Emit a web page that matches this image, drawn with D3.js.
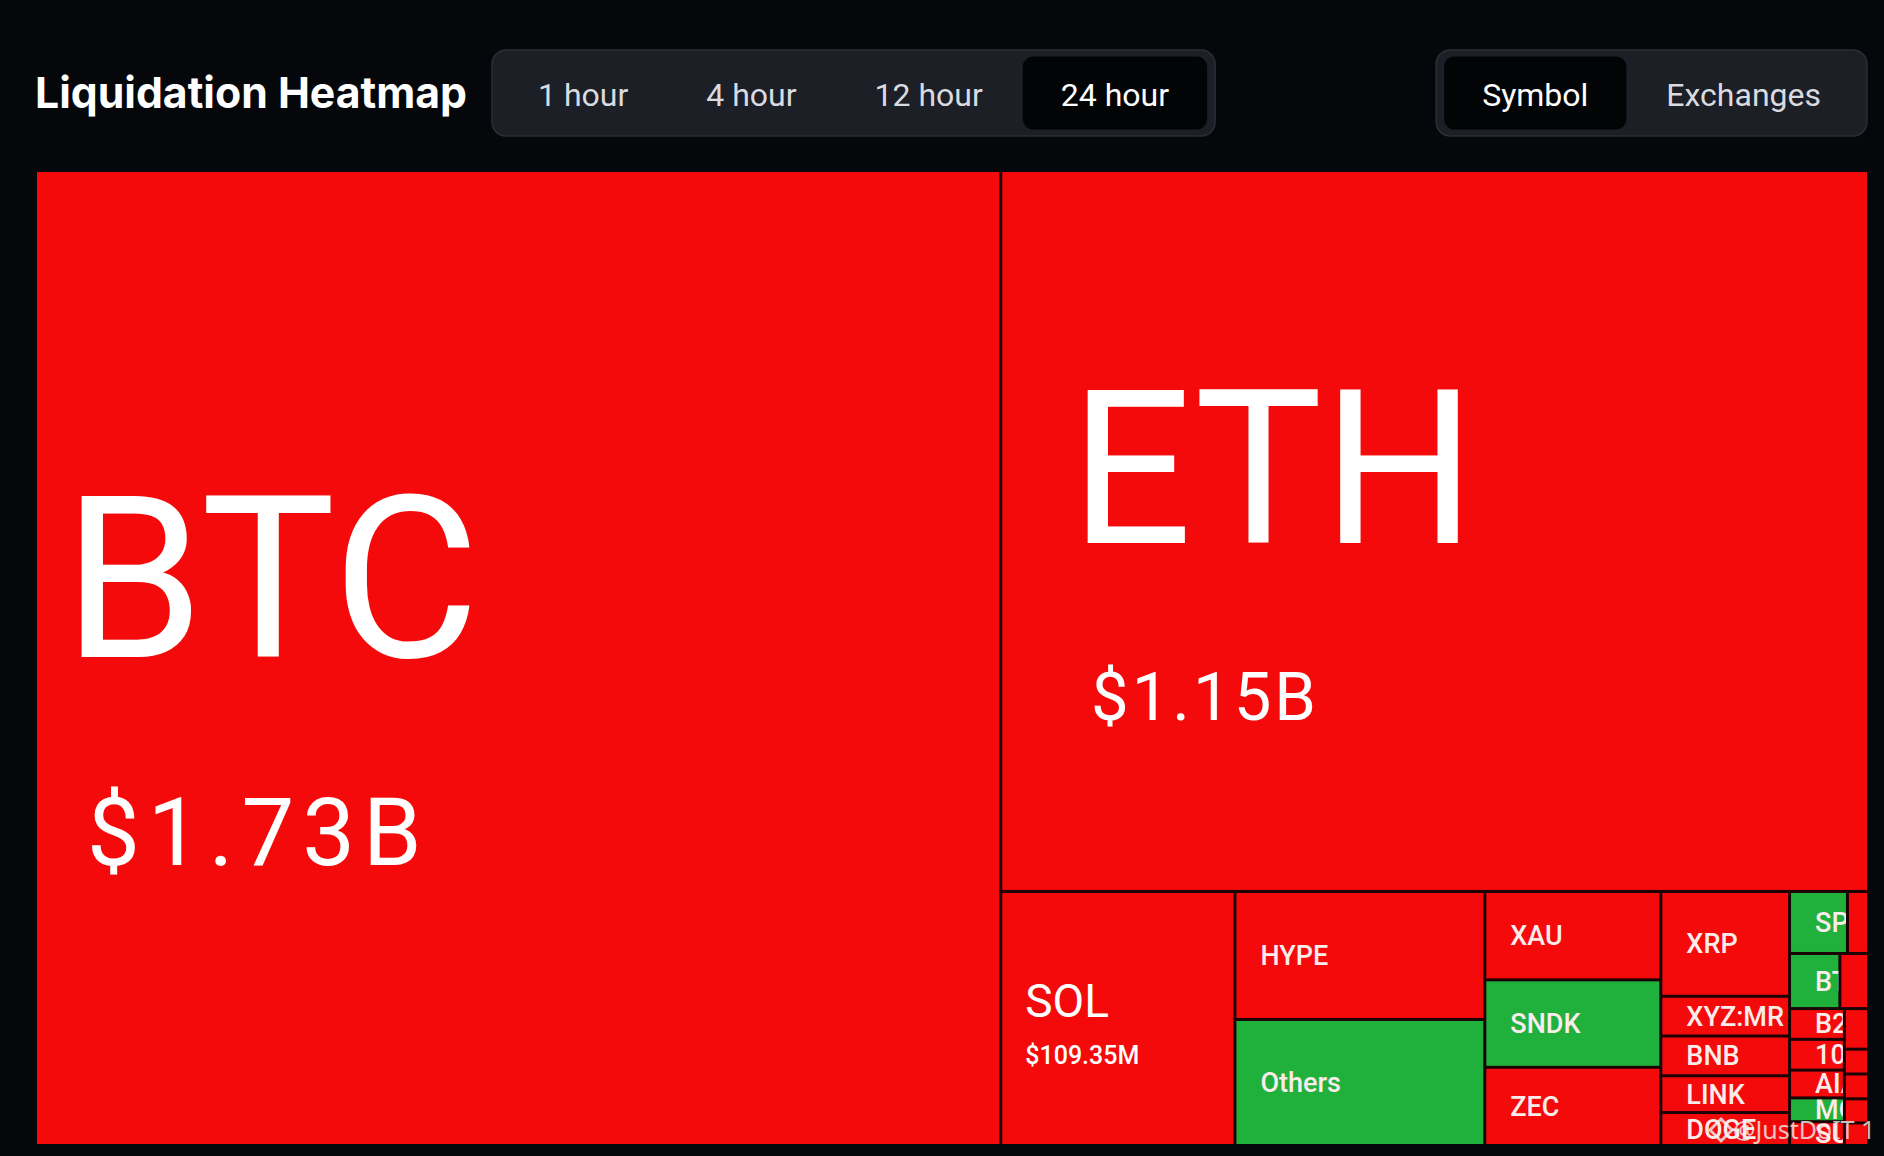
<!DOCTYPE html>
<html><head><meta charset="utf-8">
<script src="https://cdn.jsdelivr.net/npm/d3@7"></script>
<style>html,body{margin:0;padding:0;background:#05070a;overflow:hidden}</style>
</head><body>
<svg id="chart" width="1884" height="1156"></svg>
<script>
// ---------- data ----------
const title = "Liquidation Heatmap";
const timeTabs = ["1 hour", "4 hour", "12 hour", "24 hour"];
const activeTime = "24 hour";
const viewTabs = ["Symbol", "Exchanges"];
const activeView = "Symbol";

// leaves in layout order (values in $ millions)
const symbols = ["BTC", "ETH", "SOL", "HYPE", "Others", "XAU", "SNDK", "ZEC",
  "XRP", "XYZ:MR", "BNB", "LINK", "DOGE",
  "SPX", "WLD", "BTR", "PUMP",
  "B2", "1000PEPE", "AIA", "MON", "SUI",
  "ENA", "ADA", "TAO", "ASTER", "PENGU"];
const valuesM = [1730, 1150, 109.35, 58.8, 57.9, 28.6, 28.3, 25.3,
  24.8, 9.4, 9.4, 8.7, 7.8,
  6.6, 2.4, 5.1, 2.9,
  3.1, 3.1, 2.8, 2.4, 2.4,
  1.8, 1.1, 1.1, 1.07, 1.0];
const sides = ["long", "long", "long", "long", "short", "long", "short", "long",
  "long", "long", "long", "long", "long",
  "short", "long", "short", "long",
  "long", "long", "long", "short", "long",
  "long", "long", "long", "long", "long"];
const parents = ["root", "R", "B", "C1", "C1", "C2", "C2", "C2",
  "C3", "C3", "C3", "C3", "C3",
  "C4a", "C4a", "C4b", "C4b",
  "C4cL", "C4cL", "C4cL", "C4cL", "C4cL",
  "C4cR", "C4cR", "C4cR", "C4cR", "C4cR"];
const groupIds = ["root", "R", "B", "C1", "C2", "C3", "C4", "C4a", "C4b", "C4c", "C4cL", "C4cR"];
const groupParents = ["", "root", "R", "B", "B", "B", "B", "C4", "C4", "C4", "C4c", "C4c"];
const watermark = "@JustDoIT 1";

// ---------- styles ----------
const W = 1884, H = 1156;
const TM = {x: 37, y: 172, w: 1830, h: 972};
const color = d3.scaleOrdinal().domain(["long", "short"]).range(["#f40a0a", "#20b13c"]);
// big labels: anchor "l" = from cell left edge, "r" = from cell right edge
const bigStyle = {
  BTC: {anchor: "l", nameSize: 226, nameDx: 26, nameY: 485, valSize: 94, valDx: 50, valY: 693, valLs: 8},
  ETH: {anchor: "r", nameSize: 215, nameDx: 797, nameY: 371, valSize: 67, valDx: 776, valY: 548, valLs: 3}
};
const fmt = v => v >= 1000 ? "$" + (v / 1000).toFixed(2) + "B" : "$" + v.toFixed(2) + "M";

const svg = d3.select("#chart");
svg.append("rect").attr("width", W).attr("height", H).attr("fill", "#05070a");

// ---------- header ----------
svg.append("text").text(title)
  .attr("x", 35).attr("y", 108)
  .attr("font-family", "Inter, 'Open Sans', sans-serif").attr("font-weight", 700)
  .attr("font-size", 43).attr("fill", "#ffffff")
  .attr("textLength", 432).attr("lengthAdjust", "spacingAndGlyphs");

function tabGroup(labels, active, x, alignRight) {
  const g = svg.append("g");
  const bg = g.append("rect");
  const act = g.append("rect");
  const txt = g.selectAll("text.tab").data(labels).join("text").attr("class", "tab")
    .text(d => d)
    .attr("font-family", "Roboto, sans-serif").attr("font-size", 32)
    .attr("text-anchor", "middle").attr("y", 105.5)
    .attr("fill", d => d === active ? "#ffffff" : "#d9dbe0");
  const widths = [];
  txt.each(function () { widths.push(this.getComputedTextLength() + 78); });
  const total = d3.sum(widths);
  const pad = 7;
  const left = alignRight ? x - total - pad : x + pad;
  let cx = left;
  const pos = widths.map(w => { const p = cx; cx += w; return p; });
  txt.attr("x", (d, i) => pos[i] + widths[i] / 2);
  bg.attr("x", left - pad).attr("y", 50).attr("width", total + 2 * pad).attr("height", 86)
    .attr("rx", 14).attr("fill", "#1c1f25").attr("stroke", "#2b2e35").attr("stroke-width", 1.5);
  const ai = labels.indexOf(active);
  act.attr("x", pos[ai] + 1).attr("y", 56.5).attr("width", widths[ai] - 2).attr("height", 73)
    .attr("rx", 10).attr("fill", "#030405");
}
tabGroup(timeTabs, activeTime, 492, false);
tabGroup(viewTabs, activeView, 1867, true);

// ---------- treemap ----------
const rows = groupIds.map((id, i) => ({id, parent: groupParents[i]}))
  .concat(symbols.map((s, i) => ({id: s, parent: parents[i], value: valuesM[i], side: sides[i], idx: i})));
const root = d3.stratify().id(d => d.id).parentId(d => d.parent)(rows)
  .sum(d => d.value || 0);
root.each(n => { n.minIdx = d3.min(n.leaves(), l => l.data.idx); });
root.sort((a, b) => a.minIdx - b.minIdx);

d3.treemap().tile(d3.treemapSliceDice).size([TM.w, TM.h]).paddingInner(3)(root);

const tm = svg.append("g").attr("transform", `translate(${TM.x},${TM.y})`);
tm.append("rect").attr("width", TM.w).attr("height", TM.h).attr("fill", "#1c0303");
const defs = svg.append("defs");

const leaves = tm.selectAll("g.cell").data(root.leaves()).join("g").attr("class", "cell");
leaves.each(function (d, i) {
  defs.append("clipPath").attr("id", "clip" + i)
    .append("rect").attr("x", d.x0 + TM.x).attr("y", d.y0 + TM.y)
    .attr("width", d.x1 - d.x0).attr("height", d.y1 - d.y0);
});
leaves.append("rect")
  .attr("x", d => d.x0).attr("y", d => d.y0)
  .attr("width", d => d.x1 - d.x0).attr("height", d => d.y1 - d.y0)
  .attr("fill", d => color(d.data.side));

const labels = svg.append("g");
root.leaves().forEach((d, i) => {
  const g = labels.append("g").attr("clip-path", `url(#clip${i})`);
  const x0 = d.x0 + TM.x, x1 = d.x1 + TM.x, y0 = d.y0 + TM.y, cy = y0 + (d.y1 - d.y0) / 2;
  const st = bigStyle[d.data.id];
  const ff = "Roboto, sans-serif";
  if (st) {
    const px = dx => st.anchor === "r" ? x1 - dx : x0 + dx;
    g.append("text").text(d.data.id).attr("x", px(st.nameDx)).attr("y", y0 + st.nameY)
      .attr("font-family", ff).attr("font-size", st.nameSize).attr("fill", "#fff");
    g.append("text").text(fmt(d.value)).attr("x", px(st.valDx)).attr("y", y0 + st.valY)
      .attr("font-family", ff).attr("font-size", st.valSize).attr("letter-spacing", st.valLs)
      .attr("fill", "#fff");
  } else if (d.value >= 100) {
    g.append("text").text(d.data.id).attr("x", x0 + 23).attr("y", cy - 1)
      .attr("font-family", ff).attr("font-size", 46).attr("fill", "#fff");
    g.append("text").text(fmt(d.value)).attr("x", x0 + 23).attr("y", cy + 46)
      .attr("font-family", ff).attr("font-weight", 500).attr("font-size", 25).attr("fill", "#fff");
  } else {
    g.append("text").text(d.data.id).attr("x", x0 + 24).attr("y", cy + 9.5)
      .attr("font-family", ff).attr("font-weight", 500).attr("font-size", 27).attr("fill", "#fbecec");
  }
});

// ---------- watermark ----------
const wm = svg.append("g").attr("opacity", 0.8);
const lx = 1721, ly = 1130;
wm.append("path")
  .attr("d", `M${lx},${ly - 11} L${lx + 11},${ly} L${lx},${ly + 11} L${lx - 11},${ly} Z`)
  .attr("fill", "none").attr("stroke", "#f2f2f2").attr("stroke-width", 3);
wm.append("text").text(watermark).attr("x", 1733).attr("y", 1139)
  .attr("font-family", "'Noto Sans', sans-serif").attr("font-size", 25).attr("fill", "#f0f0f0");
</script>
</body></html>
